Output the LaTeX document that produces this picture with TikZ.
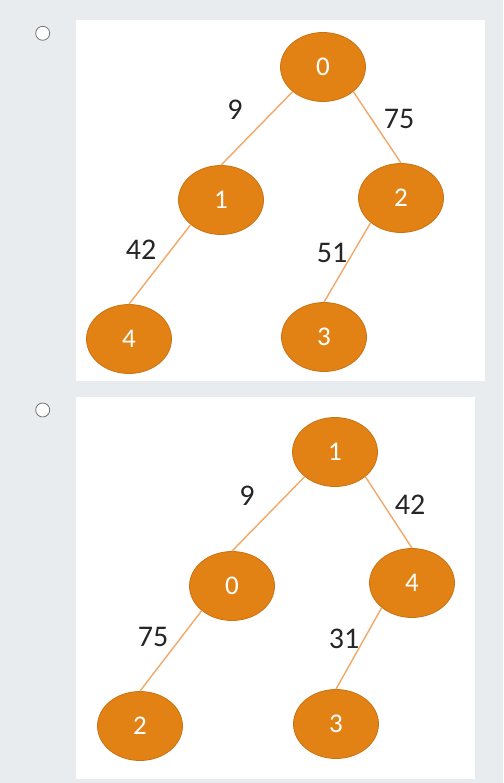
\documentclass[tikz,border=0pt]{standalone}
\usepackage{fontspec}
\setmainfont{Carlito}
\usetikzlibrary{shapes.geometric}
\definecolor{pagebg}{HTML}{E9ECEE}
\definecolor{vertfill}{HTML}{E38214}
\definecolor{vertline}{HTML}{C97212}
\definecolor{linkcol}{HTML}{F2A868}
\definecolor{wtcol}{HTML}{262626}
\tikzset{
  vert/.style={ellipse, draw=vertline, line width=.8pt, fill=vertfill, text=white,
    minimum width=85pt, minimum height=69pt, inner sep=0pt,
    font=\fontsize{27}{27}\selectfont},
  link/.style={draw=linkcol, line width=1.4pt},
  wt/.style={text=wtcol, inner sep=0pt, font=\fontsize{30}{30}\selectfont},
  radio/.style={draw=black!55, fill=white, line width=.8pt},
}
\begin{document}
\begin{tikzpicture}[x=1pt,y=-1pt]
  \fill[pagebg] (0,0) rectangle (503,783);
  \fill[white] (76,20) rectangle (485,381);
  \fill[white] (76,397) rectangle (475,779);
  \draw[radio] (42.7,33.3) circle (7pt);
  \draw[radio] (42.7,410) circle (7pt);

  % first tree
  \node[vert] (a0) at (323,67) {0};
  \node[vert] (a1) at (221,200) {1};
  \node[vert] (a2) at (401,198) {2};
  \node[vert] (a4) at (129,339) {4};
  \node[vert] (a3) at (324,337) {3};
  \draw[link] (a0.south west) -- (a1.north);
  \draw[link] (a0.south east) -- (a2.north);
  \draw[link] (a1.south west) -- (a4.north);
  \draw[link] (a2.south west) -- (a3.north);
  \node[wt] (w9) at (235,110) {9};
  \node[wt] (w75) at (399,119) {75};
  \node[wt] (w42) at (141,250) {42};
  \node[wt] (w51) at (332,253) {51};

  % second tree
  \node[vert] (b1) at (335,452) {1};
  \node[vert] (b0) at (232,586) {0};
  \node[vert] (b4) at (412,583) {4};
  \node[vert] (b2) at (140,726) {2};
  \node[vert] (b3) at (336,724) {3};
  \draw[link] (b1.south west) -- (b0.north);
  \draw[link] (b1.south east) -- (b4.north);
  \draw[link] (b0.south west) -- (b2.north);
  \draw[link] (b4.south west) -- (b3.north);
  \node[wt] (v9) at (247,496) {9};
  \node[wt] (v42) at (410,505) {42};
  \node[wt] (v75) at (153,637) {75};
  \node[wt] (v31) at (344,639) {31};
\end{tikzpicture}
\end{document}
